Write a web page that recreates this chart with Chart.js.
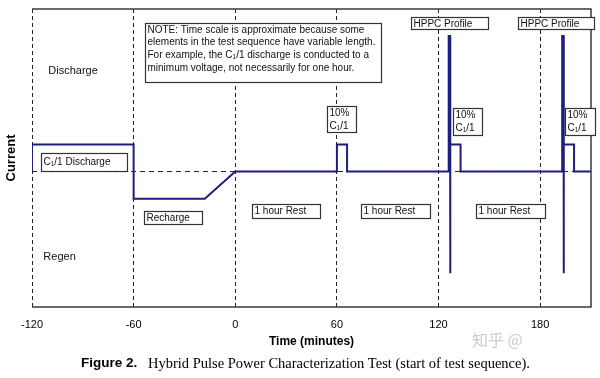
<!DOCTYPE html>
<html>
<head>
<meta charset="utf-8">
<script src="https://cdn.jsdelivr.net/npm/chart.js@4.4.0/dist/chart.umd.min.js"></script>
<style>
  html, body { margin: 0; padding: 0; background: #fff; }
  #wrap { width: 600px; height: 378px; }
</style>
</head>
<body>
<div id="wrap"><canvas id="hppcChart"></canvas></div>
<script>
// test profile (time in minutes, current in relative units, 1 = C1/1 rate)
const timeMin = [-120, -120, -60, -60, -18, 0, 60, 60, 66, 66,
  126, 126, 126.8, 126.8, 127, 127, 133, 133,
  193, 193, 193.8, 193.8, 194, 194, 200, 200, 210];
const current = [0, 1, 1, -1, -1, 0, 0, 1, 1, 0,
  0, 5, 5, -3.75, -3.75, 1, 1, 0,
  0, 5, 5, -3.75, -3.75, 1, 1, 0, 0];

// dashed zero-current reference line
const baseTime = [-120, 210];
const baseCurrent = [0, 0];

const tickValues = [-120, -60, 0, 60, 120, 180];

// annotation boxes, corners in data units; "_1" marks a subscript 1
const boxes = [
  { x1: -53, x2: 86, y1: 5.5, y2: 3.3, lines: [
    'NOTE: Time scale is approximate because some',
    'elements in the test sequence have variable length.',
    'For example, the C_1/1 discharge is conducted to a',
    'minimum voltage, not necessarily for one hour.'], size: 10, first: 6.5, step: 12.6 },
  { x1: -114.7, x2: -63.8, y1: 0.68, y2: 0.02, lines: ['C_1/1 Discharge'], size: 10, first: 8.5, step: 12 },
  { x1: -53.7, x2: -19.7, y1: -1.46, y2: -1.95, lines: ['Recharge'], size: 10, first: 6.5, step: 12 },
  { x1: 10, x2: 50.2, y1: -1.2, y2: -1.71, lines: ['1 hour Rest'], size: 10, first: 6.5, step: 12 },
  { x1: 74.2, x2: 114.7, y1: -1.2, y2: -1.71, lines: ['1 hour Rest'], size: 10, first: 6.5, step: 12 },
  { x1: 142.3, x2: 182.6, y1: -1.2, y2: -1.71, lines: ['1 hour Rest'], size: 10, first: 6.5, step: 12 },
  { x1: 103.9, x2: 149.2, y1: 5.7, y2: 5.25, lines: ['HPPC Profile'], size: 10, first: 6.5, step: 12 },
  { x1: 167.2, x2: 211.7, y1: 5.7, y2: 5.25, lines: ['HPPC Profile'], size: 10, first: 6.5, step: 12 },
  { x1: 54.1, x2: 71.2, y1: 2.42, y2: 1.45, lines: ['10%', 'C_1/1'], size: 10, first: 7, step: 12.5 },
  { x1: 128.5, x2: 145.8, y1: 2.34, y2: 1.35, lines: ['10%', 'C_1/1'], size: 10, first: 7, step: 12.5 },
  { x1: 194.9, x2: 212.2, y1: 2.34, y2: 1.35, lines: ['10%', 'C_1/1'], size: 10, first: 7, step: 12.5 }
];

const freeLabels = [
  { x: -110.4, y: 3.71, text: 'Discharge' },
  { x: -113.3, y: -3.16, text: 'Regen' }
];

function drawSubText(ctx, str, x, y, size) {
  const parts = str.split(/_(\d)/);
  let cx = x;
  parts.forEach((p, i) => {
    if (i % 2 === 1) {
      ctx.font = (size * 0.65) + 'px Arial';
      ctx.fillText(p, cx, y + size * 0.22);
    } else {
      ctx.font = size + 'px Arial';
      ctx.fillText(p, cx, y);
    }
    cx += ctx.measureText(p).width;
  });
}

const decorPlugin = {
  id: 'decor',
  afterDraw(chart) {
    const ctx = chart.ctx;
    const xs = chart.scales.x;
    const ys = chart.scales.y;
    const area = chart.chartArea;
    ctx.save();

    // frame: top, right, bottom (left edge is the dashed -120 gridline)
    ctx.strokeStyle = '#3a3a3a';
    ctx.lineWidth = 1.5;
    ctx.beginPath();
    ctx.moveTo(area.left, area.top);
    ctx.lineTo(area.right, area.top);
    ctx.lineTo(area.right, area.bottom);
    ctx.lineTo(area.left, area.bottom);
    ctx.stroke();

    ctx.textBaseline = 'middle';
    ctx.textAlign = 'left';
    boxes.forEach(b => {
      const l = Math.round(xs.getPixelForValue(b.x1)) + 0.5;
      const r = Math.round(xs.getPixelForValue(b.x2)) + 0.5;
      const t = Math.round(ys.getPixelForValue(b.y1)) + 0.5;
      const bt = Math.round(ys.getPixelForValue(b.y2)) + 0.5;
      ctx.fillStyle = '#fff';
      ctx.fillRect(l, t, r - l, bt - t);
      ctx.strokeStyle = '#333';
      ctx.lineWidth = 1.2;
      ctx.strokeRect(l, t, r - l, bt - t);
      ctx.fillStyle = '#111';
      b.lines.forEach((line, i) => {
        drawSubText(ctx, line, l + 2, t + b.first + i * b.step, b.size);
      });
    });

    ctx.fillStyle = '#111';
    ctx.font = '11px Arial';
    freeLabels.forEach(f => {
      ctx.fillText(f.text, xs.getPixelForValue(f.x), ys.getPixelForValue(f.y));
    });

    // watermark
    ctx.fillStyle = 'rgba(160,160,160,0.55)';
    ctx.font = '16px "Noto Sans CJK SC"';
    ctx.fillText('知乎 @', 472, 340);

    // caption
    ctx.fillStyle = '#000';
    ctx.font = 'bold 13.5px Arial';
    ctx.fillText('Figure 2.', 81, 363);
    ctx.font = '14.5px "Liberation Serif"';
    ctx.fillText('Hybrid Pulse Power Characterization Test (start of test sequence).', 148, 364);
    ctx.restore();
  }
};

new Chart(document.getElementById('hppcChart'), {
  type: 'line',
  data: {
    datasets: [
      {
        label: 'Current',
        data: timeMin.map((t, i) => ({ x: t, y: current[i] })),
        borderColor: '#1c1f7c',
        borderWidth: 2,
        pointRadius: 0,
        tension: 0,
        fill: false,
        order: 1
      },
      {
        label: 'Zero',
        data: baseTime.map((t, i) => ({ x: t, y: baseCurrent[i] })),
        borderColor: '#222',
        borderWidth: 1,
        borderDash: [5, 4],
        pointRadius: 0,
        fill: false,
        order: 2
      }
    ]
  },
  options: {
    responsive: true,
    maintainAspectRatio: false,
    animation: false,
    layout: { padding: { top: 9, right: 9, bottom: 29, left: 0 } },
    plugins: {
      legend: { display: false },
      tooltip: { enabled: false }
    },
    scales: {
      x: {
        type: 'linear',
        min: -120,
        max: 210,
        afterBuildTicks: (scale) => { scale.ticks = tickValues.map(v => ({ value: v })); },
        afterFit: (scale) => { scale.height = 42; },
        ticks: {
          color: '#000',
          font: { family: 'Arial', size: 11 },
          padding: 11,
          maxRotation: 0
        },
        grid: { color: '#222', lineWidth: 1, drawTicks: false },
        border: { display: false, dash: [4, 3] },
        title: {
          display: true,
          text: 'Time (minutes)',
          color: '#000',
          font: { family: 'Arial', size: 12, weight: 'bold' },
          padding: 0
        }
      },
      y: {
        type: 'linear',
        min: -5,
        max: 6,
        afterFit: (scale) => { scale.width = 32; },
        ticks: { display: false },
        grid: { display: false },
        border: { display: false },
        title: {
          display: true,
          text: 'Current',
          color: '#000',
          font: { family: 'Arial', size: 13, weight: 'bold' },
          padding: { top: 4, bottom: 0 }
        }
      }
    }
  },
  plugins: [decorPlugin]
});
</script>
</body>
</html>
